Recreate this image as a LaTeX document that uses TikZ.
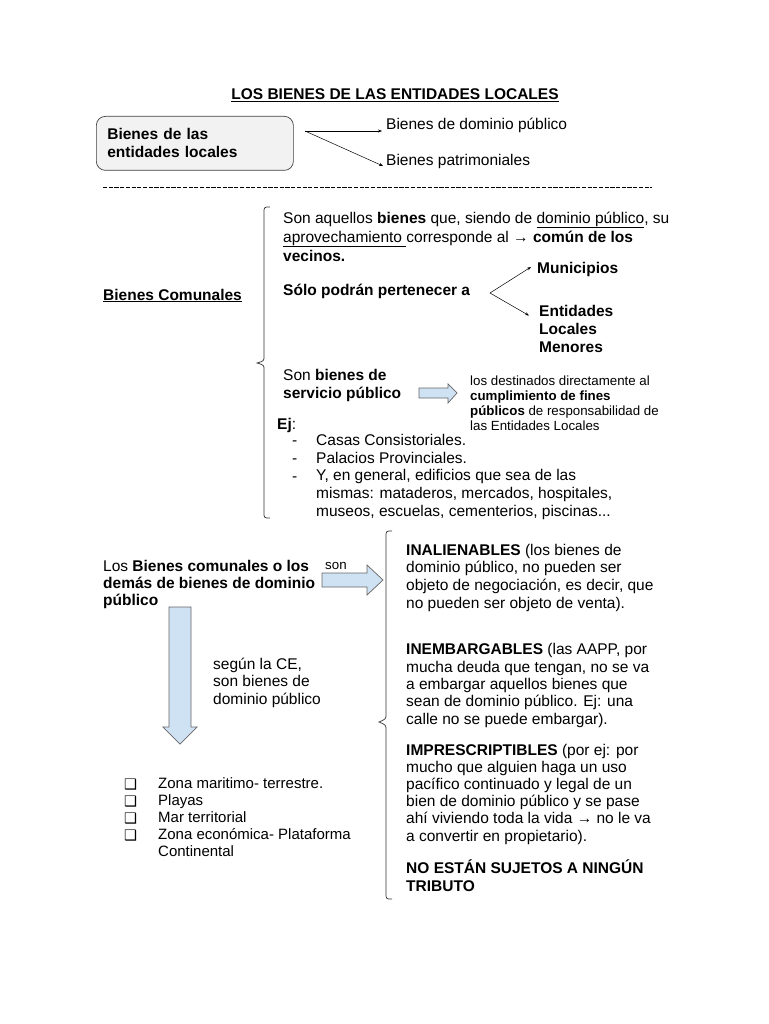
\documentclass[tikz,border=0pt]{standalone}
\usepackage{fontspec}
\setmainfont{Liberation Sans}
\newfontfamily\symfont{DejaVu Sans}
\usetikzlibrary{arrows.meta}
\definecolor{arrowblue}{RGB}{207,226,243}

\begin{document}
\begin{tikzpicture}[x=1pt,y=-1pt,
	txt/.style={anchor=base west,inner sep=0pt,align=left,font=\fontsize{15.5}{17.6}\selectfont},
	small/.style={anchor=base west,inner sep=0pt,align=left,font=\fontsize{13.3}{14.7}\selectfont},
	boxed/.style={draw=black!75,fill=black!5,rounded corners=9pt,line width=0.7pt},
	blockarrow/.style={draw=black!60,fill=arrowblue,line width=0.7pt},
	brace/.style={draw=black!80,line width=0.7pt},
	pointer/.style={-{Stealth[length=4pt,width=3pt]},line width=0.5pt}]

	\fill[white] (0,0) rectangle (768,1024);

	% title and head box (multi-line nodes sit on their last baseline)
	\node[txt,anchor=base] (title) at (395,100) {\textbf{\underline{LOS BIENES DE LAS ENTIDADES LOCALES}}};
	\node[boxed,anchor=north west,minimum width=197pt,minimum height=54pt,
		text width=175pt,inner xsep=11pt,align=left,font=\fontsize{15.5}{18}\selectfont] (entidades) at (96,116)
		{\textbf{Bienes de las}\\\textbf{entidades locales}};
	\node[txt] (dominio) at (386,130) {Bienes de dominio público};
	\node[txt] (patrimoniales) at (386,166) {Bienes patrimoniales};
	\coordinate (split) at (305,131);

	\path[pointer] (split) edge ([xshift=-4pt]dominio.west |- split);
	\path[pointer] (split) edge ([xshift=-3pt,yshift=-4pt]patrimoniales.west);

	\draw[dash pattern=on 4.2pt off 1.5pt,line width=0.7pt] (103,187) -- (652,187);

	% bienes comunales
	\node[txt] (comunales) at (103,300) {\textbf{\underline{Bienes Comunales}}};
	\draw[brace] (270,207) .. controls (264,207) .. (264,213) -- (264,356)
		.. controls (264,361) .. (257,363) .. controls (264,365) .. (264,370)
		-- (264,512) .. controls (264,518) .. (270,518);

	\node[txt,font=\fontsize{15.5}{19}\selectfont] (definicion) at (283,261)
		{Son aquellos \textbf{bienes} que, siendo de \underline{dominio público}, su\\
		\underline{aprovechamiento\ }corresponde al → \textbf{común de los}\\
		\textbf{vecinos.}};
	\node[txt] (pertenecer) at (283,295) {\textbf{Sólo podrán pertenecer a}};
	\coordinate (fork) at (490,293);
	\node[txt] (municipios) at (537,273) {\textbf{Municipios}};
	\node[txt,font=\fontsize{15.5}{18}\selectfont] (menores) at (539,352)
		{\textbf{Entidades}\\\textbf{Locales}\\\textbf{Menores}};

	\path[pointer] (fork) edge ([xshift=-6pt,yshift=2pt]municipios.west);
	\path[pointer] (fork) edge ([xshift=-10pt,yshift=-11pt]menores.north west);

	\node[txt,font=\fontsize{15.5}{18}\selectfont] (servicio) at (283,398)
		{Son \textbf{bienes de}\\\textbf{servicio público}};
	\draw[blockarrow] (419,388) -- (448,388) -- (448,384) -- (457,393) -- (448,403)
		-- (448,398) -- (419,398) -- cycle;
	\node[small] (destinados) at (470,430)
		{los destinados directamente al\\\textbf{cumplimiento de fines}\\
		\textbf{públicos} de responsabilidad de\\las Entidades Locales};

	\node[txt] (ej) at (277,429) {\textbf{Ej}:};
	\node[txt] (guiones) at (292,481) {-\\-\\-};
	\node[txt] (ejemplos) at (316,516)
		{Casas Consistoriales.\\Palacios Provinciales.\\Y, en general, edificios que sea de las\\
		mismas: mataderos, mercados, hospitales,\\museos, escuelas, cementerios, piscinas...};

	% dominio publico
	\node[txt,font=\fontsize{15.5}{17}\selectfont] (demas) at (103,605)
		{Los \textbf{Bienes comunales o los}\\\textbf{demás de bienes de dominio}\\\textbf{público}};
	\node[small] (son) at (325,569) {son};
	\draw[blockarrow] (322,573) -- (367,573) -- (367,565) -- (383,580) -- (367,595)
		-- (367,587) -- (322,587) -- cycle;
	\draw[blockarrow] (169,607) -- (191,607) -- (191,727) -- (197,727) -- (180,744)
		-- (163,727) -- (169,727) -- cycle;
	\node[txt,font=\fontsize{15.5}{17.5}\selectfont] (segun) at (213,704)
		{según la CE,\\son bienes de\\dominio público};

	\draw[brace] (392,531) .. controls (386,531) .. (386,537) -- (386,714)
		.. controls (386,719) .. (379,722) .. controls (386,725) .. (386,730)
		-- (386,893) .. controls (386,899) .. (392,899);

	\node[txt,font=\fontsize{15.5}{17.6}\selectfont] (inalienables) at (406,608)
		{\textbf{INALIENABLES} (los bienes de\\dominio público, no pueden ser\\
		objeto de negociación, es decir, que\\no pueden ser objeto de venta).};
	\node[txt,font=\fontsize{15.5}{17.3}\selectfont] (inembargables) at (406,724)
		{\textbf{INEMBARGABLES} (las AAPP, por\\mucha deuda que tengan, no se va\\
		a embargar aquellos bienes que\\sean de dominio público. Ej: una\\
		calle no se puede embargar).};
	\node[txt,font=\fontsize{15.5}{17.2}\selectfont] (imprescriptibles) at (406,841)
		{\textbf{IMPRESCRIPTIBLES} (por ej: por\\mucho que alguien haga un uso\\
		pacífico continuado y legal de un\\bien de dominio público y se pase\\
		ahí viviendo toda la vida → no le va\\a convertir en propietario).};
	\node[txt,font=\fontsize{15.5}{18}\selectfont] (tributo) at (406,891)
		{\textbf{NO ESTÁN SUJETOS A NINGÚN}\\\textbf{TRIBUTO}};

	% lista de bienes
	\node[txt,font=\symfont\fontsize{14.5}{16.8}\selectfont] (casillas) at (124,840)
		{❑\\❑\\❑\\❑};
	\node[txt,font=\fontsize{15}{16.8}\selectfont] (zonas) at (158,856)
		{Zona maritimo- terrestre.\\Playas\\Mar territorial\\Zona económica- Plataforma\\Continental};

\end{tikzpicture}
\end{document}
